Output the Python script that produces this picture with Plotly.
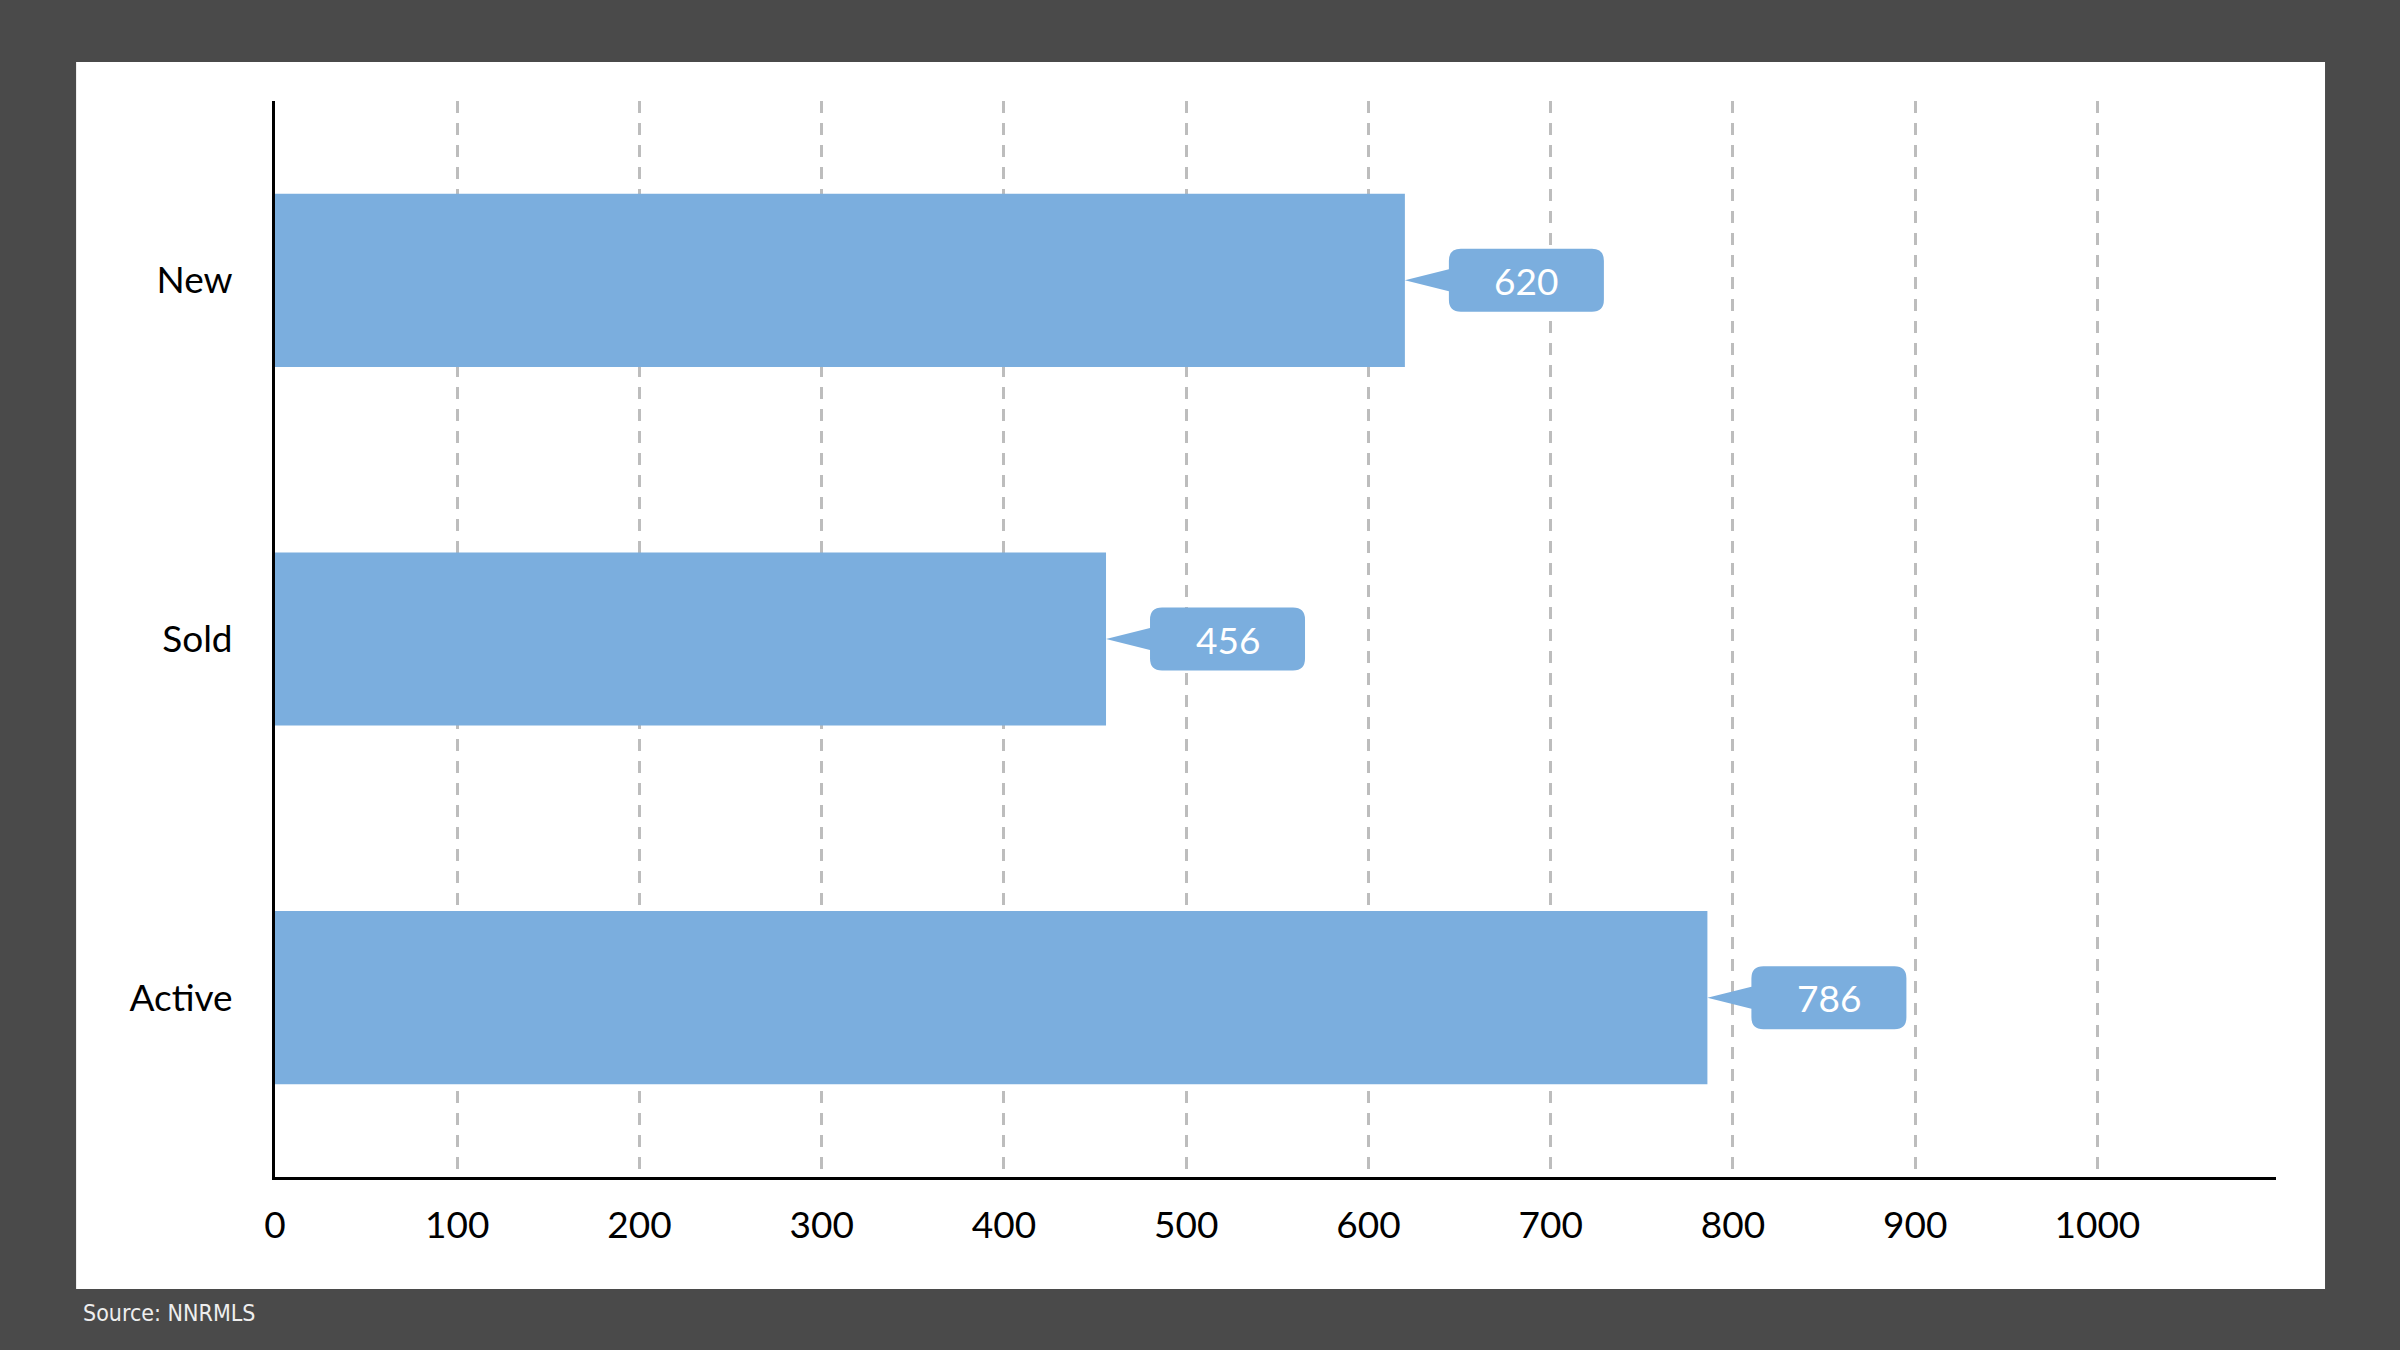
import plotly.graph_objects as go

# Listing counts (source: NNRMLS)
categories = ["New", "Sold", "Active"]
counts = [620, 456, 786]
x_ticks = [0, 100, 200, 300, 400, 500, 600, 700, 800, 900, 1000]

bar_color = "#7BAEDE"
label_font = "Lato, 'Open Sans', sans-serif"

fig = go.Figure()

fig.add_trace(go.Bar(
    x=counts,
    y=categories,
    orientation="h",
    marker=dict(color=bar_color, line=dict(width=0)),
    hoverinfo="x+y",
))

# white card behind the chart
fig.add_shape(type="rect", xref="paper", yref="paper",
              x0=-0.0994, x1=1.0245, y0=-0.1041, y1=1.0362,
              fillcolor="white", line=dict(width=0), layer="below")

# speech-bubble value labels next to each bar end (pixel-sized, anchored at the bar end)
gap, box_w, half_h, r, notch = 44, 155, 31.5, 12, 11
bubble = (f"M 0 0 L {gap} {notch} V {half_h - r} Q {gap} {half_h} {gap + r} {half_h} "
          f"H {gap + box_w - r} Q {gap + box_w} {half_h} {gap + box_w} {half_h - r} "
          f"V {-half_h + r} Q {gap + box_w} {-half_h} {gap + box_w - r} {-half_h} "
          f"H {gap + r} Q {gap} {-half_h} {gap} {-half_h + r} V {-notch} Z")
for cat, val in zip(categories, counts):
    fig.add_shape(type="path", xref="x", yref="y",
                  xsizemode="pixel", ysizemode="pixel",
                  xanchor=val, yanchor=cat, path=bubble,
                  fillcolor=bar_color, line=dict(width=0), layer="above")
    fig.add_annotation(x=val, y=cat, text=str(val), showarrow=False,
                       xanchor="center", yanchor="middle", xshift=gap + box_w / 2,
                       font=dict(family=label_font, size=37, color="white"))

fig.add_annotation(xref="paper", yref="paper", x=-0.0972, y=-0.126,
                   text="Source: NNRMLS", showarrow=False,
                   xanchor="left", yanchor="middle",
                   font=dict(family="'DejaVu Sans Condensed', 'Liberation Sans Narrow', sans-serif",
                             size=23, color="#eeeeee"))

fig.update_layout(
    width=2400, height=1350,
    margin=dict(l=275, r=124, t=101, b=173),
    paper_bgcolor="#4a4a4a",
    plot_bgcolor="rgba(0,0,0,0)",
    bargap=0.517,
    showlegend=False,
    font=dict(family=label_font, color="black", size=37),
    xaxis=dict(
        range=[0, 1098],
        tickvals=x_ticks,
        ticktext=[str(t) for t in x_ticks],
        showgrid=True, gridcolor="#bdbdbd", gridwidth=2.5, griddash="12px,10px",
        zeroline=False,
        showline=True, linecolor="black", linewidth=3,
        ticks="", ticklabelstandoff=14,
        tickfont=dict(family=label_font, size=37, color="black"),
    ),
    yaxis=dict(
        autorange="reversed",
        showgrid=False, zeroline=False,
        showline=True, linecolor="black", linewidth=3,
        ticks="", ticklabelstandoff=32,
        tickfont=dict(family=label_font, size=37, color="black"),
    ),
)

# drop the page's default body margin so the figure fills the window
fig.write_html("out.html", config={"displayModeBar": False},
               post_script="document.body.style.margin='0';")
